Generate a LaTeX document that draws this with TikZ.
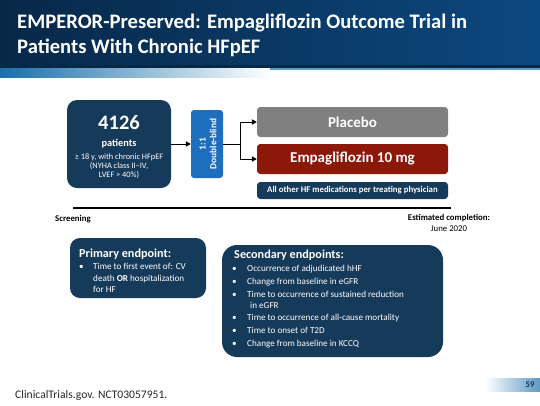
\documentclass[tikz,border=0pt]{standalone}
\usepackage{fontspec}
\setmainfont{Carlito}
\usepackage{xcolor}
\definecolor{navy}{RGB}{22,58,90}
\definecolor{midblue}{RGB}{30,110,190}
\definecolor{armred}{RGB}{140,24,10}
\definecolor{armgray}{RGB}{128,128,128}
\definecolor{bandleft}{RGB}{8,40,72}
\definecolor{bandright}{RGB}{12,72,128}
\definecolor{stripblue}{RGB}{25,110,170}
\usepackage{tikz}
\usetikzlibrary{arrows.meta, positioning, shapes, calc}

\begin{document}
\begin{tikzpicture}[x=0.3mm, y=-0.3mm,
    card/.style={fill=navy, rounded corners=3mm, inner sep=0pt},
    arm/.style={rounded corners=1mm, inner sep=0pt, minimum width=57.3mm,
                text=white, font=\fontsize{12.8}{15}\selectfont\bfseries},
    wtxt/.style={inner sep=0pt, text=white},
    btxt/.style={inner sep=0pt, anchor=base west, text=white,
                 font=\fontsize{7.8}{9.4}\selectfont},
    arr/.style={-{Triangle[length=1.5mm,width=1.6mm]}, line width=0.8pt}]
    \useasboundingbox (0,0) rectangle (540,405);
    % title band
    \shade[left color=bandleft, right color=bandright] (0,0) rectangle (540,66);
    \fill[bandleft] (0,65) rectangle (540,68);
    \shade[left color=stripblue, right color=white] (0,68) rectangle (270,77);
    \fill[stripblue!70] (270,68) rectangle (540,70);
    \node[wtxt, anchor=base west, font=\fontsize{17.6}{21}\selectfont\bfseries] (title1) at (17,28) {EMPEROR-Preserved: Empagliflozin Outcome Trial in};
    \node[wtxt, anchor=base west, font=\fontsize{17.6}{21}\selectfont\bfseries] (title2) at (17,53) {Patients With Chronic HFpEF};
    % patients and randomisation
    \node[card, minimum width=31.2mm, minimum height=26.4mm] (pts) at (119,144) {};
    \node[wtxt, font=\fontsize{17.5}{20}\selectfont\bfseries] (ptsnum) at (119,123) {4126};
    \node[wtxt, font=\fontsize{8.8}{10}\selectfont\bfseries] (ptsword) at (119,144) {patients};
    \node[wtxt, font=\fontsize{7.1}{8.5}\selectfont] (crit1) at (119,157) {≥ 18 y, with chronic HFpEF};
    \node[wtxt, font=\fontsize{7.1}{8.5}\selectfont] (crit2) at (119,166) {(NYHA class II--IV,};
    \node[wtxt, font=\fontsize{7.1}{8.5}\selectfont] (crit3) at (119,175) {LVEF > 40\%)};
    \node[fill=midblue, rounded corners=0.9mm, minimum width=9.6mm, minimum height=20.4mm, inner sep=0pt] (dblind) at (207,144) {};
    \node[wtxt, rotate=90, font=\fontsize{8}{9.4}\selectfont\bfseries] (ratio) at (202.5,144) {1:1};
    \node[wtxt, rotate=90, font=\fontsize{8}{9.4}\selectfont\bfseries] (blind) at (213,144) {Double-blind};
    \node[arm, fill=armgray, minimum height=9mm] (placebo) at (352.5,122) {Placebo};
    \node[arm, fill=armred, minimum height=9mm] (empa) at (352.5,159) {Empagliflozin 10 mg};
    \node[arm, fill=navy, minimum height=5.1mm, font=\fontsize{7.5}{9}\selectfont\bfseries] (hfmed) at (352.5,190.5) {All other HF medications per treating physician};
    \coordinate (split) at (240,144);
    \draw[arr] (pts.east) -- (dblind.west);
    \draw[line width=0.8pt] (dblind.east) -- (split);
    \draw[arr] (split) |- (placebo.west);
    \draw[arr] (split) |- (empa.west);
    % timeline
    \coordinate (tl0) at (73,208);
    \coordinate (tl1) at (451,208);
    \draw[line width=1.2pt] (tl0) -- (tl1);
    \node[inner sep=0pt, anchor=base west, font=\fontsize{7.5}{9}\selectfont\bfseries] (screen) at (55,221) {Screening};
    \node[inner sep=0pt, align=center, font=\fontsize{7.5}{9.6}\selectfont] (compl) at (449,223) {\textbf{Estimated completion:}\\June 2020};
    % primary endpoint
    \node[card, minimum width=40.8mm, minimum height=18mm] (prim) at (138,268) {};
    \node[btxt, font=\fontsize{10.4}{12}\selectfont\bfseries] (primhead) at (79,257) {Primary endpoint:};
    \node[btxt] (pb1) at (79,269) {\textbullet};
    \node[btxt] (pl1) at (93,269) {Time to first event of: CV};
    \node[btxt] (pl2) at (93,281) {death \textbf{OR} hospitalization};
    \node[btxt] (pl3) at (93,292) {for HF};
    % secondary endpoints
    \node[card, rounded corners=4.5mm, minimum width=66.3mm, minimum height=33.6mm] (sec) at (332.5,301) {};
    \node[btxt, font=\fontsize{10.4}{12}\selectfont\bfseries] (sechead) at (234,258) {Secondary endpoints:};
    \node[btxt] (sb1) at (232,271) {\textbullet};
    \node[btxt] (sl1) at (247,271) {Occurrence of adjudicated hHF};
    \node[btxt] (sb2) at (232,284) {\textbullet};
    \node[btxt] (sl2) at (247,284) {Change from baseline in eGFR};
    \node[btxt] (sb3) at (232,297) {\textbullet};
    \node[btxt] (sl3) at (247,297) {Time to occurrence of sustained reduction};
    \node[btxt] (sl3b) at (250,308) {in eGFR};
    \node[btxt] (sb4) at (232,320) {\textbullet};
    \node[btxt] (sl4) at (247,320) {Time to occurrence of all-cause mortality};
    \node[btxt] (sb5) at (232,333) {\textbullet};
    \node[btxt] (sl5) at (247,333) {Time to onset of T2D};
    \node[btxt] (sb6) at (232,346) {\textbullet};
    \node[btxt] (sl6) at (247,346) {Change from baseline in KCCQ};
    % footer
    \node[inner sep=0pt, anchor=base west, text=black!85, font=\fontsize{9.9}{12}\selectfont] (src) at (15,398) {ClinicalTrials.gov. NCT03057951.};
    \shade[left color=white, right color=stripblue!70] (485,378) rectangle (540,391);
    \node[inner sep=0pt, text=navy, font=\fontsize{7.5}{9}\selectfont\bfseries] (pgnum) at (530,384.5) {59};
\end{tikzpicture}
\end{document}
